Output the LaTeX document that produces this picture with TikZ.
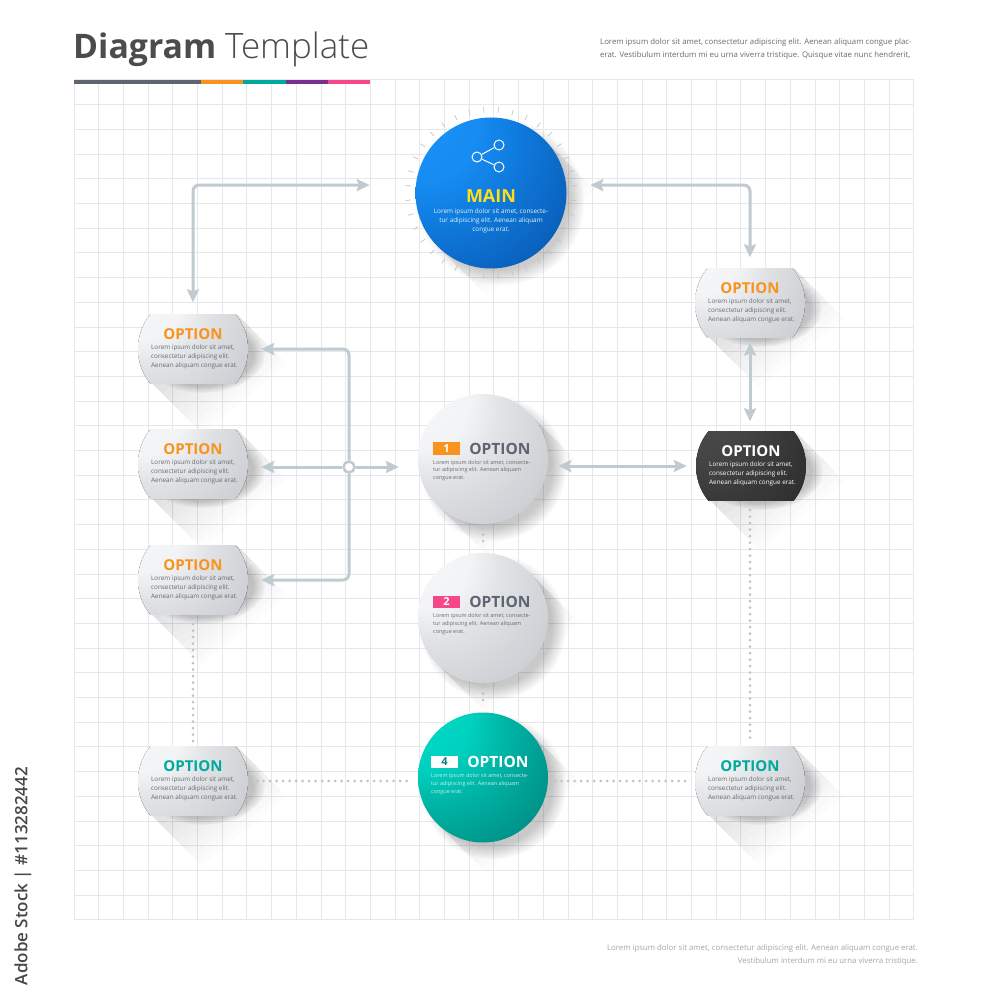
\documentclass[tikz,border=0pt]{standalone}
\usepackage{fontspec}
\setmainfont{Open Sans}
\newfontfamily\lightfont{Open Sans Light}
\newfontfamily\semifont{Open Sans Semibold}
\usetikzlibrary{arrows.meta, positioning, fadings}
\definecolor{MyGrid}{HTML}{E6E7E9}
\definecolor{MyLine}{HTML}{C0CBCF}
\definecolor{MyDot}{HTML}{BFC3C8}
\definecolor{MySlate}{HTML}{5E6470}
\definecolor{MyOrange}{HTML}{F7931E}
\definecolor{MyTeal}{HTML}{00A99D}
\definecolor{MyPurple}{HTML}{7B2E8E}
\definecolor{MyPink}{HTML}{F7478B}
\definecolor{MyYellow}{HTML}{FFDE17}
\definecolor{MyText}{HTML}{666A71}
\pgfdeclareradialshading{ballGrey}{\pgfpoint{-30bp}{28bp}}{
	rgb(0bp)=(.97,.97,.98);rgb(18bp)=(.95,.955,.96);rgb(27bp)=(.88,.89,.90);rgb(52bp)=(.76,.77,.79);rgb(57bp)=(.68,.695,.725);rgb(60bp)=(.84,.85,.86);rgb(80bp)=(.90,.905,.91)}
\pgfdeclareradialshading{ballBlue}{\pgfpoint{-30bp}{28bp}}{
	rgb(0bp)=(.10,.58,.98);rgb(18bp)=(.09,.55,.95);rgb(27bp)=(.06,.49,.88);rgb(52bp)=(.03,.32,.66);rgb(57bp)=(.03,.25,.55);rgb(60bp)=(.05,.42,.80);rgb(80bp)=(.05,.42,.80)}
\pgfdeclareradialshading{ballTeal}{\pgfpoint{-30bp}{28bp}}{
	rgb(0bp)=(0,.86,.79);rgb(18bp)=(0,.82,.75);rgb(27bp)=(0,.72,.66);rgb(52bp)=(0,.50,.47);rgb(57bp)=(0,.40,.38);rgb(60bp)=(0,.66,.60);rgb(80bp)=(0,.66,.60)}
\pgfdeclareradialshading{ballDark}{\pgfpoint{-30bp}{28bp}}{
	rgb(0bp)=(.30,.30,.30);rgb(18bp)=(.27,.27,.27);rgb(27bp)=(.24,.24,.24);rgb(52bp)=(.16,.16,.16);rgb(57bp)=(.11,.11,.11);rgb(60bp)=(.30,.30,.30);rgb(80bp)=(.30,.30,.30)}

\begin{document}
\begin{tikzpicture} [
			x=1pt,y=-1pt,
			every node/.style={inner sep=0,text=MyText},
			gridline/.style={draw=MyGrid,line width=1},
			conn/.style={draw=MyLine,line width=3,rounded corners=6,>={Stealth[length=13,width=12,inset=2]}},
			dots/.style={draw=MyDot,line width=3,line cap=round,dash pattern=on 0pt off 6.5pt},
			junction/.style={circle,draw=MyLine,line width=2.5,fill=white,minimum size=11},
			pill/.style={rectangle,minimum width=110,minimum height=69,path picture={\fill[shading=#1] (path picture bounding box.center) circle [radius=55];}},
			ball/.style={circle,minimum size=130,shading=#1},
			longshadow/.style={fill=black,fill opacity=0.011},
			softshadow/.style={fill=black,fill opacity=0.2,path fading=circle with fuzzy edge 20 percent},
			pilltitle/.style={font=\fontsize{15}{18}\selectfont\bfseries},
			pillbody/.style={anchor=west,align=left,font=\fontsize{6.35}{9}\selectfont},
			ballbody/.style={anchor=west,align=left,font=\fontsize{5.45}{7.8}\selectfont},
			tag/.style={rectangle,minimum width=27,minimum height=12.5,font=\fontsize{11}{12}\selectfont\bfseries},
			balltitle/.style={font=\fontsize{15.5}{18}\selectfont\bfseries},
			ray/.style={draw=MyGrid!85!black,line width=0.7},
			icon/.style={circle,draw=white,line width=1,minimum size=10}
		]
			\useasboundingbox (0,0) rectangle (988,1000);
			\fill[white] (0,0) rectangle (988,1000);
			\foreach \i in {0,...,34} {
				\draw[gridline] ({74+\i*24.7},80) -- ({74+\i*24.7},920);
				\draw[gridline] (74,{80+\i*24.7}) -- (914,{80+\i*24.7});
			}
			\fill[MySlate] (74,80) rectangle (201,84);
			\fill[MyOrange] (201,80) rectangle (243,84);
			\fill[MyTeal] (243,80) rectangle (286,84);
			\fill[MyPurple] (286,80) rectangle (328,84);
			\fill[MyPink] (328,80) rectangle (370,84);
			\node at (73,59) [anchor=base west,text=black!70,font=\fontsize{33.8}{36}\selectfont] (nodeTitle) {\textbf{Diagram} {\fontsize{35}{36}\selectfont\lightfont Template}};
			\node at (600,49) [anchor=west,align=left,font=\fontsize{7.82}{12.2}\selectfont] (nodeIntro) {Lorem ipsum dolor sit amet, consectetur adipiscing elit. Aenean aliquam congue plac-\\erat. Vestibulum interdum mi eu urna viverra tristique. Quisque vitae nunc hendrerit,};
			\node at (918,954.5) [anchor=east,align=right,text=black!35,font=\fontsize{7.82}{13}\selectfont] (nodeFoot) {Lorem ipsum dolor sit amet, consectetur adipiscing elit. Aenean aliquam congue erat.\\Vestibulum interdum mi eu urna viverra tristique.};
			\node at (23,876) [rotate=90,text=black!72,font=\fontsize{17}{20}\selectfont\semifont] (nodeStock) {Adobe Stock | \#113282442};

			\foreach \bx/\by/\br in {491/193/75.5,483/459/65,483/618/65,483/777.5/65} {
				\foreach \s in {5,10,...,50}
					\fill[longshadow] ({\bx-0.707*\br},{\by+0.707*\br}) -- ({\bx+0.707*\br},{\by-0.707*\br}) -- ({\bx+0.707*\br+\s},{\by-0.707*\br+\s}) -- ({\bx-0.707*\br+\s},{\by+0.707*\br+\s}) -- cycle;
				\fill[softshadow] ({\bx+10},{\by+9}) circle [radius={\br+8}];
			}
			\foreach \px/\py in {193/349,193/464,193/580,193/781,750/303,751/466,750/781} {
				\foreach \s in {5,10,...,50}
					\fill[longshadow] ({\px-41},{\py+34.5}) -- ({\px+44},{\py-34.5}) -- ({\px+44+\s},{\py-34.5+\s}) -- ({\px-41+\s},{\py+34.5+\s}) -- cycle;
				\fill[softshadow] ({\px+10},{\py+6}) ellipse [x radius=62,y radius=38];
			}

			\foreach \a in {5,15,...,355} {
				\draw[ray] ([shift={(\a:80.5)}]491,193) -- ([shift={(\a:86)}]491,193);
			}
			\node at (491,193) [circle,minimum size=151,shading=ballBlue] (nodeMain) {};
			\node at (499,145) [icon] (iconTop) {};
			\node at (477,157) [icon] (iconLeft) {};
			\node at (499,167) [icon] (iconBot) {};
			\draw[white,line width=1] (iconLeft) -- (iconTop);
			\draw[white,line width=1] (iconLeft) -- (iconBot);
			\node at (491,196) [text=MyYellow,font=\fontsize{18}{20}\selectfont\bfseries] (mainTitle) {MAIN};
			\node at (491,221) [align=center,text=white!88!MyTeal,font=\fontsize{6.4}{9}\selectfont] (mainBody) {Lorem ipsum dolor sit amet, consecte-\\tur adipiscing elit. Aenean aliquam\\congue erat.};

			\node at (483,459) [ball=ballGrey] (nodeBallA) {};
			\node at (446.5,448.5) [tag,fill=MyOrange,text=white] (tagA) {1};
			\node [right=9 of tagA,text=MySlate,balltitle] (titleA) {OPTION};
			\node at (433,470.5) [ballbody] (bodyA) {Lorem ipsum dolor sit amet, consecte-\\tur adipiscing elit. Aenean aliquam\\congue erat.};

			\node at (483,618) [ball=ballGrey] (nodeBallB) {};
			\node at (446.5,602) [tag,fill=MyPink,text=white] (tagB) {2};
			\node [right=9 of tagB,text=MySlate,balltitle] (titleB) {OPTION};
			\node at (433,624) [ballbody] (bodyB) {Lorem ipsum dolor sit amet, consecte-\\tur adipiscing elit. Aenean aliquam\\congue erat.};

			\node at (483,777.5) [ball=ballTeal] (nodeBallC) {};
			\node at (444.5,762) [tag,fill=white,text=MyTeal!80!black] (tagC) {4};
			\node [right=9 of tagC,text=white,balltitle] (titleC) {OPTION};
			\node at (431,784) [ballbody,text=white!80!MyTeal] (bodyC) {Lorem ipsum dolor sit amet, consecte-\\tur adipiscing elit. Aenean aliquam\\congue erat.};

			\foreach \name/\px/\py/\shade/\titlecol/\bodycol in {
				optA/193/349/ballGrey/MyOrange/MyText,
				optB/193/464/ballGrey/MyOrange/MyText,
				optC/193/580/ballGrey/MyOrange/MyText,
				optD/193/781/ballGrey/MyTeal/MyText,
				optE/750/303/ballGrey/MyOrange/MyText,
				optF/751/466/ballDark/white/white,
				optG/750/781/ballGrey/MyTeal/MyText} {
				\node at (\px,\py) [pill=\shade] (\name) {};
				\node at (\px,{\py-14.5}) [pilltitle,text=\titlecol] (\name Title) {OPTION};
				\node at ({\px-42},{\py+8}) [pillbody,text=\bodycol] (\name Body) {Lorem ipsum dolor sit amet,\\consectetur adipiscing elit.\\Aenean aliquam congue erat.};
			}

			\node at (349,467) [junction] (nodeJoin) {};
			\draw[conn,<->,shorten <=12,shorten >=46] (optA.north) |- (nodeMain.174);
			\draw[conn,<->,shorten <=11,shorten >=24] (optE.north) |- (nodeMain.6);
			\draw[conn,->,shorten >=13] (nodeJoin) |- (optA.east);
			\draw[conn,->,shorten >=13] (nodeJoin) |- (optC.east);
			\draw[conn,->,shorten >=13] (nodeJoin) -- (nodeJoin -| optB.east);
			\draw[conn,->,shorten >=19] (nodeJoin) -- (nodeJoin -| nodeBallA.west);
			\draw[conn,<->,shorten <=10,shorten >=9] (nodeBallA.east |- optF.west) -- (optF.west);
			\draw[conn,<->,shorten <=5,shorten >=10] (optE.south) -- (optF.north -| optE.south);

			\draw[dots,shorten <=4,shorten >=11] (nodeBallA.south) -- (nodeBallB.north);
			\draw[dots,shorten <=4,shorten >=8] (nodeBallB.south) -- (nodeBallC.north);
			\draw[dots,shorten <=3,shorten >=5] (optC.south) -- (optD.north);
			\draw[dots,shorten <=3,shorten >=5] (optF.south -| optG.north) -- (optG.north);
			\draw[dots,shorten <=9,shorten >=5] (optD.east) -- (nodeBallC.west |- optD.east);
			\draw[dots,shorten <=7,shorten >=8] (nodeBallC.east |- optG.west) -- (optG.west);
		\end{tikzpicture}
\end{document}
